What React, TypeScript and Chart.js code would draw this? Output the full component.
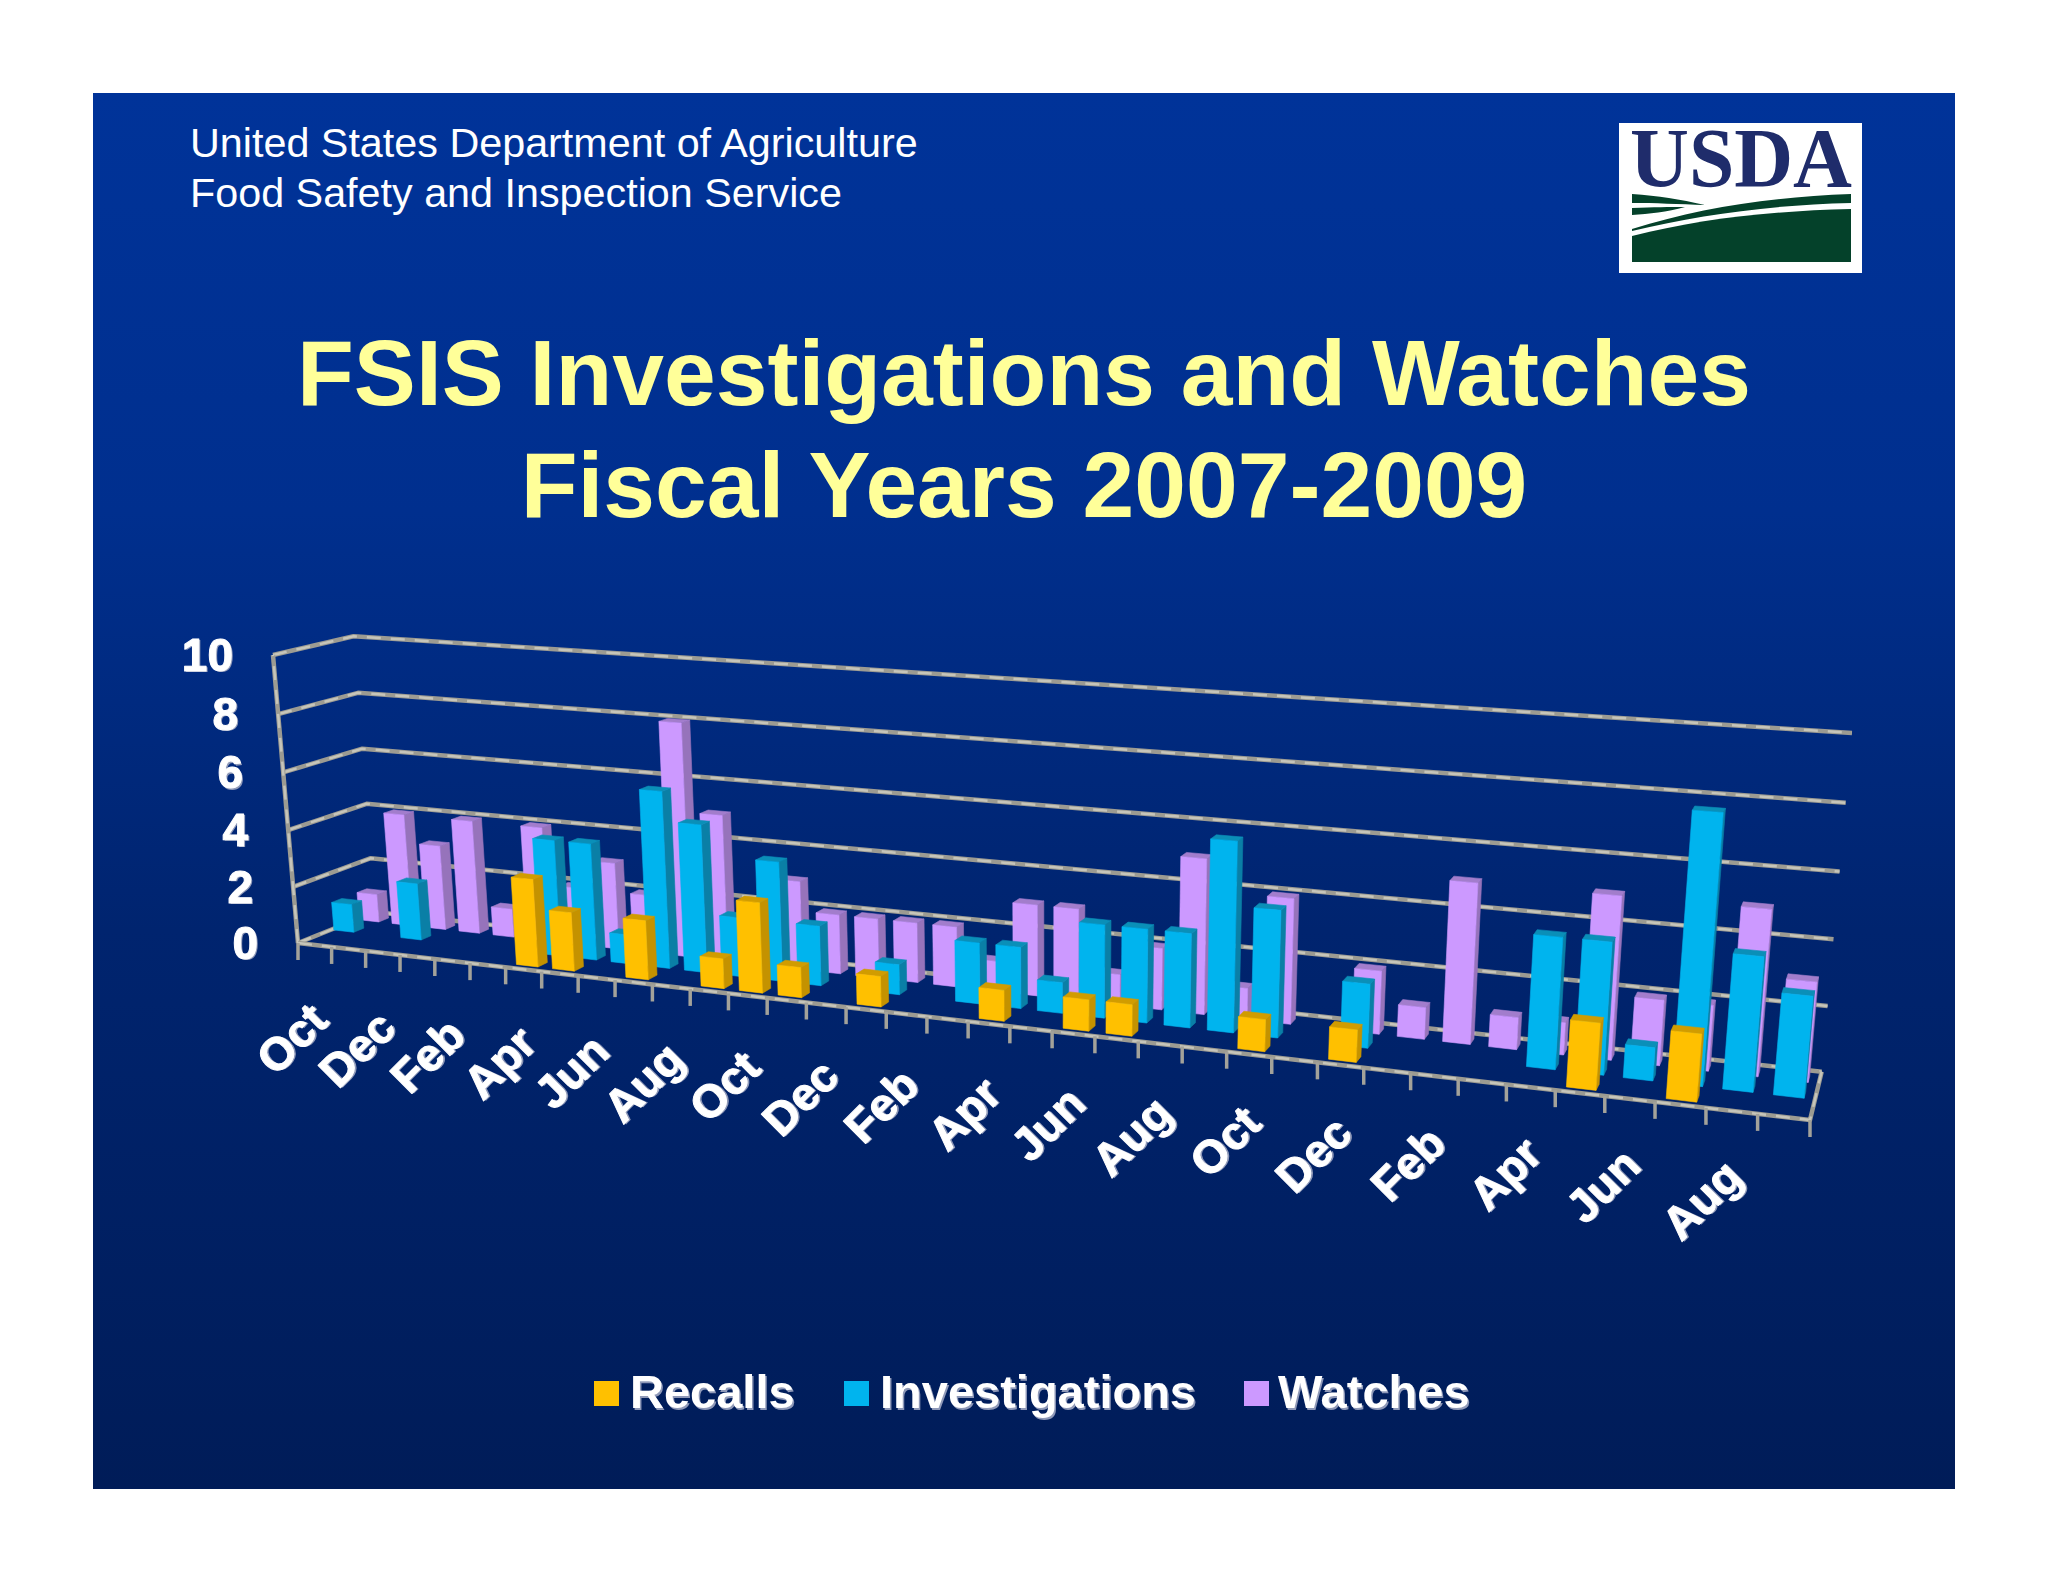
import { useEffect, useRef } from 'react'
import { Chart, registerables } from 'chart.js'

Chart.register(...registerables)

const months = [
  'Oct', 'Nov', 'Dec', 'Jan', 'Feb', 'Mar', 'Apr', 'May', 'Jun', 'Jul', 'Aug', 'Sep',
  'Oct', 'Nov', 'Dec', 'Jan', 'Feb', 'Mar', 'Apr', 'May', 'Jun', 'Jul', 'Aug', 'Sep',
  'Oct', 'Nov', 'Dec', 'Jan', 'Feb', 'Mar', 'Apr', 'May', 'Jun', 'Jul', 'Aug', 'Sep',
]
const recalls = [0, 0, 0, 0, 0, 0, 3, 2, 0, 2, 0, 1, 3, 1, 0, 1, 0, 0, 1, 0, 1, 1, 0, 0, 1, 0, 1, 0, 0, 0, 0, 2, 0, 2, 0, 0]
const investigations = [1, 0, 2, 0, 0, 0, 4, 4, 1, 6, 5, 2, 4, 2, 0, 1, 0, 2, 2, 1, 3, 3, 3, 6, 4, 0, 2, 0, 0, 0, 4, 4, 1, 8, 4, 3]
const watches = [1, 4, 3, 4, 1, 4, 2, 3, 2, 8, 5, 0, 3, 2, 2, 2, 2, 1, 3, 3, 1, 2, 5, 1, 4, 0, 2, 1, 5, 1, 1, 5, 2, 2, 5, 3]
const yTicks = [0, 2, 4, 6, 8, 10]
const seriesNames = ['Recalls', 'Investigations', 'Watches']

// face colours of the 3d boxes, same order as the series
const frontColors = ['#ffc000', '#00b4ee', '#cc99ff']
const topColors = ['#d19c00', '#0a8fb8', '#a27dcc']
const sideColors = ['#c49200', '#0a7fa6', '#9673bb']
const legendX = [594, 844, 1244]
const legendTextX = [630, 880, 1278]

// camera: screen position of the box corners + perspective terms (u months, w depth, v height)
const FL = [298, 943]
const FR = [1810, 1120]
const BL = [375, 912]
const TL = [273, 655]
const pu = -0.204
const pw = 0.0468
const pv = -0.032
const rowFront = [0.05, 0.37, 0.7]
const rowDepth = 0.13

function project(u: number, w: number, v: number) {
  const d = 1 + pu * u + pw * w + pv * v
  const at = (k: number) =>
    (FL[k] + (FR[k] * (1 + pu) - FL[k]) * u + (BL[k] * (1 + pw) - FL[k]) * w + (TL[k] * (1 + pv) - FL[k]) * v) / d
  return [at(0), at(1)]
}

function quad(ctx: CanvasRenderingContext2D, pts: number[][], color: string) {
  ctx.fillStyle = color
  ctx.strokeStyle = color
  ctx.lineWidth = 0.6
  ctx.beginPath()
  pts.forEach((p, i) => (i ? ctx.lineTo(p[0], p[1]) : ctx.moveTo(p[0], p[1])))
  ctx.closePath()
  ctx.fill()
  ctx.stroke()
}

// wall lines look stippled in the original, so a darker base with a lighter dash over it
function gridLine(ctx: CanvasRenderingContext2D, pts: number[][]) {
  const path = () => {
    ctx.beginPath()
    pts.forEach((p, i) => (i ? ctx.lineTo(p[0], p[1]) : ctx.moveTo(p[0], p[1])))
    ctx.stroke()
  }
  ctx.setLineDash([])
  ctx.strokeStyle = '#9c9b92'
  ctx.lineWidth = 4.5
  path()
  ctx.setLineDash([14, 10])
  ctx.strokeStyle = '#c6c5ba'
  ctx.lineWidth = 2.5
  path()
  ctx.setLineDash([])
}

function shadowText(ctx: CanvasRenderingContext2D, s: string, x: number, y: number) {
  ctx.fillStyle = '#8f99b8'
  ctx.fillText(s, x + 1.5, y + 1.5)
  ctx.fillStyle = '#ffffff'
  ctx.strokeStyle = '#ffffff'
  ctx.lineWidth = 1
  ctx.fillText(s, x, y)
  ctx.strokeText(s, x, y)
}

// draws the walls, axes and boxes in perspective, positions come from the chart's scales
const bars3d = {
  id: 'bars3d',
  beforeDatasetsDraw(chart: any) {
    const { ctx, scales } = chart
    const xs = scales.x
    const ys = scales.y
    const toU = (px: number) => (px - xs.left) / xs.width
    const toV = (val: number) => (ys.bottom - ys.getPixelForValue(val)) / ys.height
    const cell = xs.width / months.length

    ctx.save()
    ctx.lineJoin = 'round'
    yTicks.forEach((t) => {
      const v = toV(t)
      gridLine(ctx, [project(0, 0, v), project(0, 1, v), project(1, 1, v)])
    })
    gridLine(ctx, [project(0, 0, 0), project(0, 0, 1)])
    gridLine(ctx, [project(0, 0, 0), project(1, 0, 0), project(1, 1, 0)])
    ctx.strokeStyle = '#a3a29a'
    ctx.lineWidth = 3.5
    for (let i = 0; i <= months.length; i++) {
      const p = project(toU(xs.left + i * cell), 0, 0)
      ctx.beginPath()
      ctx.moveTo(p[0], p[1])
      ctx.lineTo(p[0], p[1] + 17)
      ctx.stroke()
    }

    // boxes sit a touch higher than the floor lines
    ctx.save()
    ctx.translate(0, -2)
    for (let r = chart.data.datasets.length - 1; r >= 0; r--) {
      const meta = chart.getDatasetMeta(r)
      const w0 = rowFront[r]
      const w1 = w0 + rowDepth
      meta.data.forEach((el: any, i: number) => {
        const v = toV(chart.data.datasets[r].data[i])
        if (v <= 0) return
        const u0 = toU(el.x - el.width / 2)
        const u1 = toU(el.x + el.width / 2)
        quad(ctx, [project(u1, w0, 0), project(u1, w1, 0), project(u1, w1, v), project(u1, w0, v)], sideColors[r])
        quad(ctx, [project(u0, w0, v), project(u1, w0, v), project(u1, w1, v), project(u0, w1, v)], topColors[r])
        quad(ctx, [project(u0, w0, 0), project(u1, w0, 0), project(u1, w0, v), project(u0, w0, v)], frontColors[r])
      })
    }
    ctx.restore()

    ctx.font = 'bold 46px "Liberation Sans"'
    ctx.textBaseline = 'middle'
    ctx.textAlign = 'right'
    yTicks.forEach((t) => {
      const p = project(0, 0, toV(t))
      shadowText(ctx, String(t), p[0] - 40, p[1] + 3)
    })
    months.forEach((m, i) => {
      if (i % 2) return
      const u = toU(xs.left + i * cell)
      const p = project(u, 0, 0)
      ctx.save()
      ctx.translate(p[0] + 23 + 7 * u, p[1] + 71 - 9 * u)
      ctx.rotate(-Math.PI / 4)
      shadowText(ctx, m, 0, 0)
      ctx.restore()
    })
    ctx.restore()
    return false
  },
}

export default function App() {
  const ref = useRef<HTMLCanvasElement>(null)

  useEffect(() => {
    if (!ref.current) return
    const series = [recalls, investigations, watches]
    const chart = new Chart(ref.current, {
      type: 'bar',
      data: {
        labels: months,
        datasets: series.map((data, i) => ({
          label: seriesNames[i],
          data,
          backgroundColor: frontColors[i],
          grouped: false,
          barPercentage: 0.6,
          categoryPercentage: 1,
        })),
      },
      options: {
        responsive: false,
        animation: false,
        devicePixelRatio: 1,
        plugins: { legend: { display: false }, tooltip: { enabled: false } },
        scales: {
          x: { display: false },
          y: { display: false, min: 0, max: 10 },
        },
      },
      plugins: [bars3d],
    } as any)
    return () => chart.destroy()
  }, [])

  const font = '"Liberation Sans", Arial, sans-serif'
  return (
    <div style={{ position: 'absolute', left: 0, top: 0, width: 2048, height: 1582, background: '#fff', overflow: 'hidden', fontFamily: font }}>
      <div
        style={{
          position: 'absolute',
          left: 93,
          top: 93,
          width: 1862,
          height: 1396,
          background: 'linear-gradient(180deg, #003399 0%, #002f8e 30%, #00246f 60%, #001c58 100%)',
        }}
      />
      <div style={{ position: 'absolute', left: 190, top: 118, fontSize: 41.3, lineHeight: '50px', color: '#fff', whiteSpace: 'nowrap' }}>
        United States Department of Agriculture
        <br />
        Food Safety and Inspection Service
      </div>
      <div
        style={{
          position: 'absolute',
          left: 0,
          width: 2048,
          top: 317,
          textAlign: 'center',
          fontSize: 93,
          lineHeight: '112px',
          fontWeight: 700,
          color: '#ffff99',
          whiteSpace: 'nowrap',
        }}
      >
        FSIS Investigations and Watches
        <br />
        Fiscal Years 2007-2009
      </div>

      <svg style={{ position: 'absolute', left: 1619, top: 123 }} width={243} height={150} viewBox="0 0 243 150">
        <rect width={243} height={150} fill="#fff" />
        <text x={11} y={64} fontFamily='"Liberation Serif", serif' fontWeight={700} fontSize={84} textLength={222} lengthAdjust="spacingAndGlyphs" fill="#1f2c6b">
          USDA
        </text>
        <path d="M13 71 C40 73 60 76 86 82 C60 81 35 80 13 80 Z" fill="#04412a" />
        <path d="M13 85 C35 84 50 84 66 84 C48 89 30 91 13 92 Z" fill="#04412a" />
        <path d="M13 106 C80 85 150 74 232 71 L232 80 C150 82 80 92 13 108 Z" fill="#04412a" />
        <path d="M13 113 C80 96 150 88 232 86 L232 139 L13 139 Z" fill="#04412a" />
      </svg>

      <canvas ref={ref} width={2048} height={1582} style={{ position: 'absolute', left: 0, top: 0 }} role="img" aria-label="FSIS investigations and watches by month" />

      {seriesNames.map((name, i) => (
        <div key={name}>
          <div style={{ position: 'absolute', left: legendX[i], top: 1381, width: 25, height: 25, background: frontColors[i] }} />
          <div
            style={{
              position: 'absolute',
              left: legendTextX[i],
              top: 1366,
              fontSize: 47,
              lineHeight: '52px',
              fontWeight: 700,
              color: '#fff',
              whiteSpace: 'nowrap',
              textShadow: '1.5px 1.5px 0 #8f99b8',
            }}
          >
            {name}
          </div>
        </div>
      ))}
    </div>
  )
}
